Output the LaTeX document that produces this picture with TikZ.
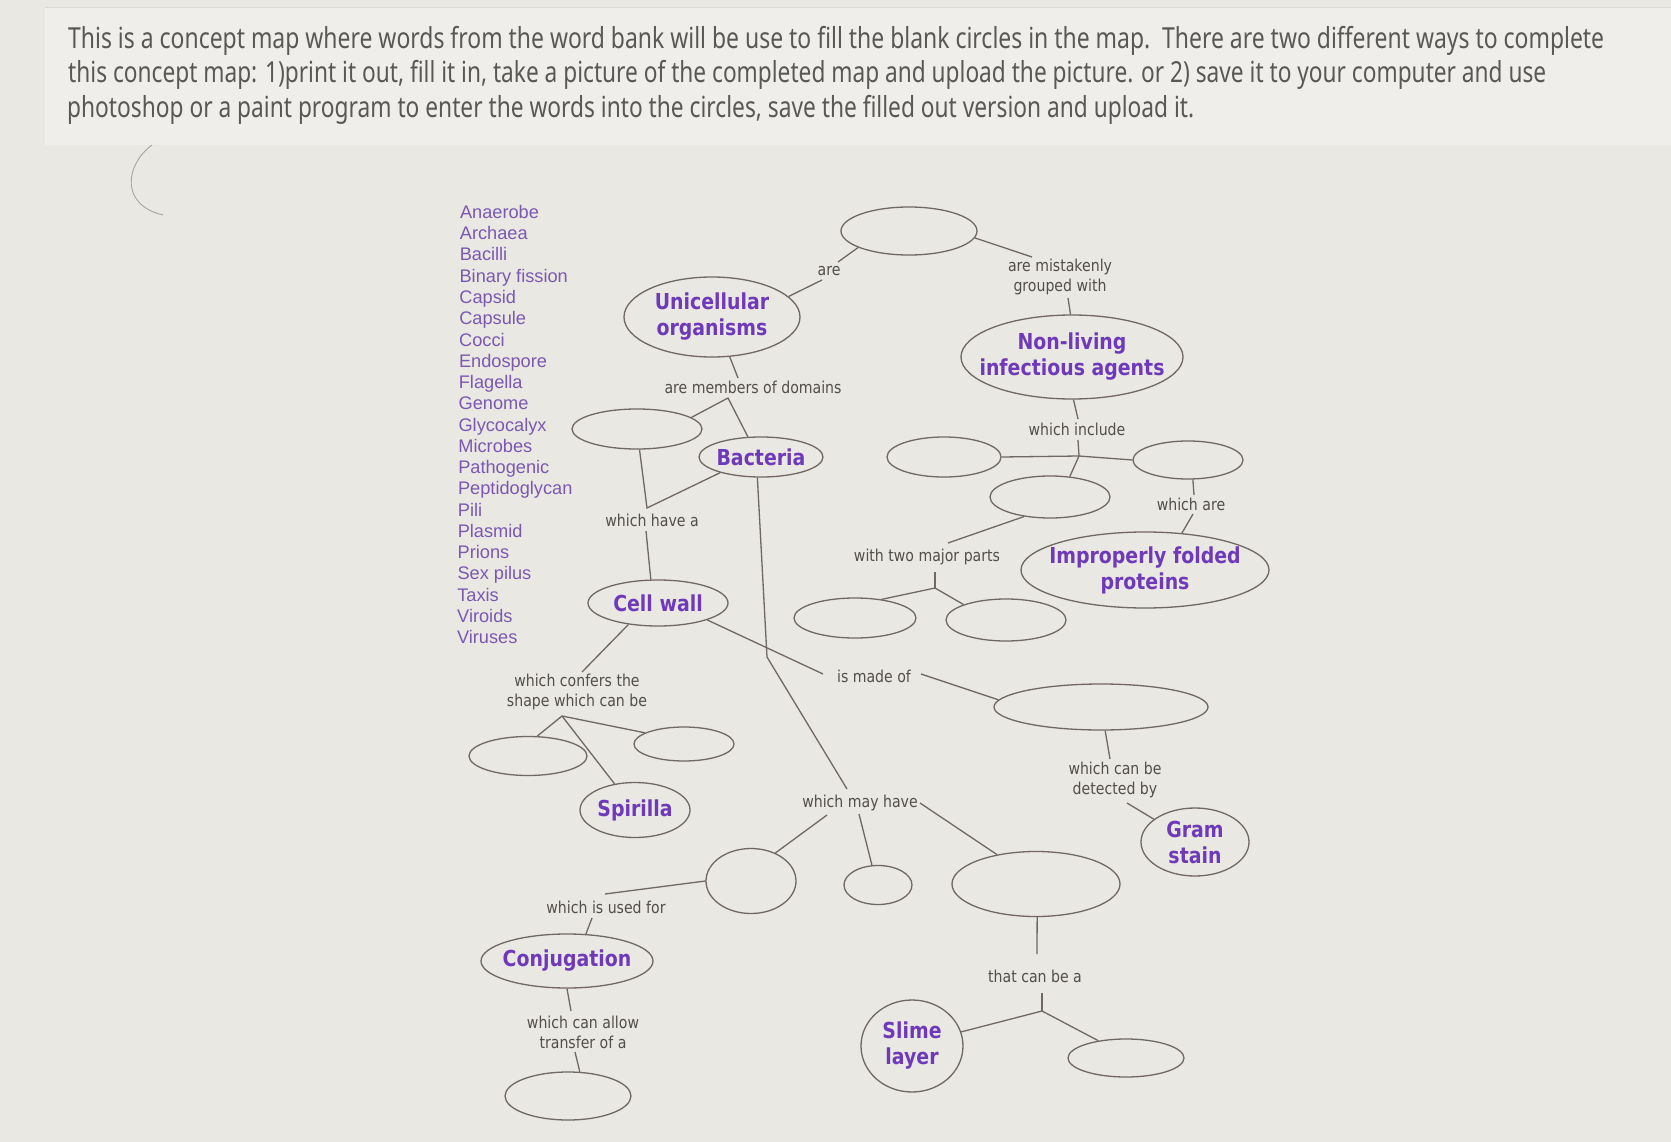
\documentclass[tikz,border=0pt]{standalone}
\usepackage{fontspec}
\usepackage{graphicx}
\setmainfont{Liberation Sans}
\newfontfamily\headfont{Noto Sans}
\newfontfamily\mapfont{DejaVu Sans}[FakeStretch=0.86]
\newfontfamily\bankfont{Liberation Sans}
\usetikzlibrary{shapes.geometric}
\definecolor{bg}{RGB}{234,232,226}
\definecolor{panel}{RGB}{239,238,235}
\definecolor{edge}{RGB}{112,104,98}
\definecolor{lbl}{RGB}{82,78,76}
\definecolor{conc}{RGB}{110,58,186}
\definecolor{bank}{RGB}{122,88,178}
\definecolor{head}{RGB}{90,88,86}
\tikzset{
  oval/.style={ellipse, draw=edge, line width=1.3pt, inner sep=0pt},
  ctext/.style={text=conc, align=center, inner sep=0pt, font=\mapfont\bfseries\fontsize{22}{26}\selectfont},
  linklbl/.style={text=lbl, align=center, inner sep=1pt, font=\mapfont\fontsize{16.4}{19.8}\selectfont},
  conn/.style={draw=edge, line width=1.3pt},
  bankword/.style={text=bank, anchor=base west, inner sep=0pt, font=\bankfont\fontsize{18.2}{20}\selectfont},
  headline/.style={text=head, anchor=base west, inner sep=0pt, font=\headfont\fontsize{29}{32}\selectfont}
}
\newcommand{\ov}[5]{\node[oval, minimum width=#3pt, minimum height=#4pt, label={[ctext]center:{#5}}] (#1) at (#2) {};}
\begin{document}
\begin{tikzpicture}[x=1pt,y=-1pt]
\useasboundingbox (0,0) rectangle (1671,1142);
\fill[bg] (0,0) rectangle (1671,1142);
\fill[panel] (45,8) rectangle (1671,145);
\draw[edge!25, line width=0.8pt] (45,7) -- (1671,7);
\draw[edge!60, line width=0.9pt] (152,145) .. controls (125,165) and (120,205) .. (163,215);
% header
\node[headline] (h1) at (68,49) {\resizebox{1536pt}{\height}{This is a concept map where words from the word bank will be use to fill the blank circles in the map.\ \ There are two different ways to complete}};
\node[headline] (h2) at (68,83) {\resizebox{1478pt}{\height}{this concept map: 1)print it out, fill it in, take a picture of the completed map and upload the picture. or 2) save it to your computer and use}};
\node[headline] (h3) at (67,118) {\resizebox{1127pt}{\height}{photoshop or a paint program to enter the words into the circles, save the filled out version and upload it.}};
% word bank
\foreach \w [count=\i] in {Anaerobe,Archaea,Bacilli,Binary fission,Capsid,Capsule,Cocci,Endospore,Flagella,Genome,Glycocalyx,Microbes,Pathogenic,Peptidoglycan,Pili,Plasmid,Prions,Sex pilus,Taxis,Viroids,Viruses}
  \node[bankword] (bank\i) at ({460-0.15*\i},{218.5+21.25*(\i-1)}) {\w};
% concept ovals
\ov{uni}{712,317}{176}{80}{Unicellular\\organisms}
\ov{nonliving}{1072,357}{222}{84}{Non-living\\infectious agents}
\ov{bact}{761,457}{124}{40}{Bacteria}
\ov{cw}{658,603}{140}{46}{Cell wall}
\ov{ifp}{1145,570}{248}{76}{Improperly folded\\proteins}
\ov{gram}{1195,842}{108}{68}{Gram\\stain}
\ov{spir}{635,810}{110}{55}{Spirilla}
\ov{conj}{567,961}{172}{54}{Conjugation}
\ov{slime}{912,1046}{102}{92}{Slime\\layer}
% blank ovals
\ov{top}{909,231}{136}{48}{}
\ov{dom}{637,429}{130}{40}{}
\ov{inc1}{944,457}{114}{40}{}
\ov{inc3}{1188,460}{110}{38}{}
\ov{inc2}{1050,497}{120}{42}{}
\ov{part1}{855,618}{122}{40}{}
\ov{part2}{1006,620}{120}{42}{}
\ov{made}{1101,707}{214}{46}{}
\ov{shape1}{528,756}{118}{39}{}
\ov{shape2}{684,744}{100}{34}{}
\ov{have1}{751,881}{90}{65}{}
\ov{have2}{878,885}{68}{39}{}
\ov{have3}{1036,884}{168}{65}{}
\ov{transfer}{568,1096}{126}{48}{}
\ov{slimealt}{1126,1058}{116}{38}{}
% link labels
\node[linklbl] (lare) at (829,271) {are};
\node[linklbl] (lmist) at (1060,277) {are mistakenly\\grouped with};
\node[linklbl] (lmem) at (753,387) {are members of domains};
\node[linklbl] (lhave) at (652,520) {which have a};
\node[linklbl] (linc) at (1077,429) {which include};
\node[linklbl] (lwhichare) at (1191,504) {which are};
\node[linklbl] (ltwo) at (927,557) {with two major parts};
\node[linklbl] (lmade) at (874,676) {is made of};
\node[linklbl] (lconf) at (577,692) {which confers the\\shape which can be};
\node[linklbl] (lmay) at (860,803) {which may have};
\node[linklbl] (ldet) at (1115,780) {which can be\\detected by};
\node[linklbl] (lused) at (606,907) {which is used for};
\node[linklbl] (lthat) at (1035,976) {that can be a};
\node[linklbl] (lallow) at (583,1032) {which can allow\\transfer of a};
% junction points near labels
\coordinate (a1) at (822,280);
\coordinate (a2) at (838,262);
\coordinate (m1) at (1032,257);
\coordinate (m2) at (1068,298);
\coordinate (d1) at (738,378);
\coordinate (v1) at (728,398);
\coordinate (v2) at (647,508);
\coordinate (hv) at (646,531);
\coordinate (i1) at (1078,419);
\coordinate (i2) at (1078,440);
\coordinate (v3) at (1079,456);
\coordinate (w1) at (1194,495);
\coordinate (w2) at (1193,514);
\coordinate (t1) at (948,543);
\coordinate (t2) at (935,572);
\coordinate (v4) at (935,588);
\coordinate (md1) at (823,674);
\coordinate (md2) at (921,674);
\coordinate (dt1) at (1110,759);
\coordinate (dt2) at (1127,803);
\coordinate (v5) at (767,657);
\coordinate (my1) at (847,789);
\coordinate (my2) at (827,815);
\coordinate (my3) at (859,814);
\coordinate (my4) at (920,803);
\coordinate (u1) at (605,894);
\coordinate (u2) at (592,918);
\coordinate (al1) at (571,1011);
\coordinate (al2) at (575,1052);
\coordinate (th1) at (1037,954);
\coordinate (th2) at (1042,993);
\coordinate (v6) at (1042,1011);
\coordinate (cf1) at (582,672);
\coordinate (v7) at (562,716);
% connectors
\draw[conn] (uni.15) -- (a1);
\draw[conn] (a2) -- (top.-162);
\draw[conn] (top.-6) -- (m1);
\draw[conn] (m2) -- (nonliving.92);
\draw[conn] (uni.-66) -- (d1);
\draw[conn] (dom.12) -- (v1) -- (bact.123);
\draw[conn] (dom.-83) -- (v2) -- (bact.201);
\draw[conn] (hv) -- (cw.107);
\draw[conn] (nonliving.-88) -- (i1);
\draw[conn] (i2) -- (v3);
\draw[conn] (inc1.0) -- (v3) -- (inc3.180);
\draw[conn] (v3) -- (inc2.46);
\draw[conn] (inc3.-76) -- (w1);
\draw[conn] (w2) -- (ifp.45);
\draw[conn] (inc2.-143) -- (t1);
\draw[conn] (t2) -- (v4);
\draw[conn] (part1.35) -- (v4) -- (part2.160);
\draw[conn] (cw.-19) -- (md1);
\draw[conn] (md2) -- (made.176);
\draw[conn] (made.-80) -- (dt1);
\draw[conn] (dt2) -- (gram.151);
\draw[conn] (bact.-100) -- (v5) -- (my1);
\draw[conn] (my2) -- (have1.49);
\draw[conn] (my3) -- (have2.107);
\draw[conn] (my4) -- (have3.143);
\draw[conn] (have1.180) -- (u1);
\draw[conn] (u2) -- (conj.55);
\draw[conn] (conj.-90) -- (al1);
\draw[conn] (al2) -- (transfer.64);
\draw[conn] (have3.-88) -- (th1);
\draw[conn] (th2) -- (v6);
\draw[conn] (slime.16) -- (v6) -- (slimealt.148);
\draw[conn] (cw.-144) -- (cf1);
\draw[conn] (shape1.65) -- (v7) -- (shape2.164);
\draw[conn] (v7) -- (spir.128);
\end{tikzpicture}
\end{document}
